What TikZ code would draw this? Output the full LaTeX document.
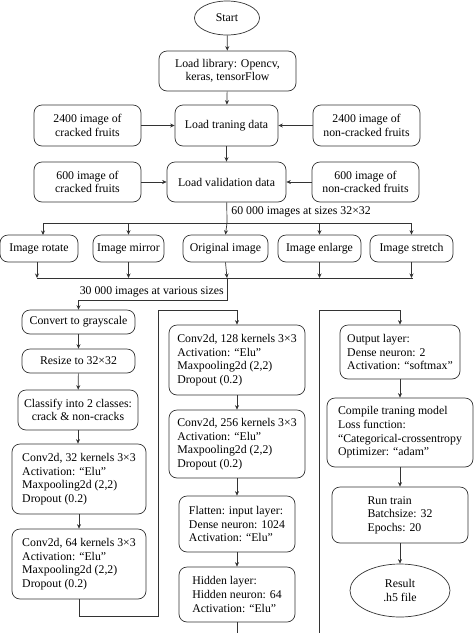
\documentclass[tikz,border=0pt]{standalone}
\usepackage{fontspec}
\setmainfont{Liberation Serif}
\usetikzlibrary{arrows.meta,shapes.geometric}
\begin{document}
\begin{tikzpicture}[x=1pt,y=-1pt,
  line width=0.7pt, draw=black!80,
  >={Stealth[length=4.5pt,width=4pt]},
  every node/.style={font=\fontsize{11.8}{13.6}\selectfont, inner sep=0pt},
  box/.style={draw, rounded corners=8pt, align=center},
  lbox/.style={draw, rounded corners=8pt, align=left},
  oval/.style={draw, ellipse, align=center},
  lab/.style={font=\fontsize{11.8}{13}\selectfont}]
\useasboundingbox (0,0) rectangle (474,633);
\clip (0,0) rectangle (474,633);
% top
\node[oval, minimum width=65, minimum height=34] (start) at (227,18) {Start};
\node[box, minimum width=137, minimum height=40] (lib) at (227.5,71) {Load library: Opencv,\\keras, tensorFlow};
\node[box, minimum width=103, minimum height=41] (tr) at (226.5,125.5) {Load traning data};
\node[box, minimum width=107, minimum height=41] (c1) at (87.5,125.5) {2400 image of\\cracked fruits};
\node[box, minimum width=107, minimum height=41] (n1) at (366.5,125.5) {2400 image of\\non-cracked fruits};
\node[box, minimum width=119, minimum height=40] (val) at (226.5,182) {Load validation data};
\node[box, minimum width=107, minimum height=40] (c2) at (87.5,182) {600 image of\\cracked fruits};
\node[box, minimum width=107, minimum height=40] (n2) at (365.5,182) {600 image of\\non-cracked fruits};
\draw[->] (start) -- (lib);
\draw[->] (lib) -- (tr);
\draw[->] (c1) -- (tr);
\draw[->] (n1) -- (tr);
\draw[->] (tr) -- (val);
\draw[->] (c2) -- (val);
\draw[->] (n2) -- (val);
\node[lab, anchor=west] (l60) at (231,212) {60 000 images at sizes 32×32};
% augmentation
\node[box, minimum width=78, minimum height=27] (rot) at (39,248.5) {Image rotate};
\node[box, minimum width=71, minimum height=27] (mir) at (128.5,248.5) {Image mirror};
\node[box, minimum width=85, minimum height=27] (orig) at (225.5,248.5) {Original image};
\node[box, minimum width=83, minimum height=27] (enl) at (319.5,248.5) {Image enlarge};
\node[box, minimum width=83, minimum height=27] (str) at (411.5,248.5) {Image stretch};
\coordinate (b1) at (227,223);
\draw (val) -- (b1);
\draw (43,223) -- (412,223);
\draw[->] (43,223) -- (43,235);
\draw[->] (mir.north |- b1) -- (mir.north);
\draw[->] (b1) -- (orig.north);
\draw[->] (enl.north |- b1) -- (enl.north);
\draw[->] (str.north |- b1) -- (str.north);
\coordinate (b2) at (227,278);
\draw (37,278) -- (413,278);
\draw[->] (37,262) -- (37,278);
\draw[->] (mir.south) -- (mir.south |- b2);
\draw[->] (orig.south) -- (b2);
\draw[->] (enl.south) -- (enl.south |- b2);
\draw[->] (str.south) -- (str.south |- b2);
\node[lab, anchor=east] (l30) at (224,292) {30 000 images at various sizes};
% left column
\node[box, minimum width=113, minimum height=24] (gray) at (78.5,322) {Convert to grayscale};
\node[box, minimum width=113, minimum height=24] (rs) at (78.5,361) {Resize to 32×32};
\node[box, minimum width=120, minimum height=40] (cls) at (78,410) {Classify into 2 classes:\\crack \& non-cracks};
\node[lbox, minimum width=134, minimum height=70] (k32) at (79,479) {Conv2d, 32 kernels 3×3\\Activation: “Elu”\\Maxpooling2d (2,2)\\Dropout (0.2)};
\node[lbox, minimum width=134, minimum height=70] (k64) at (79,564) {Conv2d, 64 kernels 3×3\\Activation: “Elu”\\Maxpooling2d (2,2)\\Dropout (0.2)};
\draw[->] (b2) -- (227,300) -- (78.5,300) -- (gray.north);
\draw[->] (gray) -- (rs);
\draw[->] (rs) -- (cls);
\draw[->] (cls.south) -- (cls.south |- k32.north);
\draw[->] (k32) -- (k64);
% middle column
\node[lbox, minimum width=136, minimum height=70] (k128) at (237,360) {Conv2d, 128 kernels 3×3\\Activation: “Elu”\\Maxpooling2d (2,2)\\Dropout (0.2)};
\node[lbox, minimum width=136, minimum height=68] (k256) at (237,444) {Conv2d, 256 kernels 3×3\\Activation: “Elu”\\Maxpooling2d (2,2)\\Dropout (0.2)};
\node[lbox, minimum width=116, minimum height=56] (flat) at (237,524) {Flatten: input layer:\\Dense neuron: 1024\\Activation: “Elu”};
\node[lbox, minimum width=116, minimum height=55] (hid) at (237,594.5) {Hidden layer:\\Hidden neuron: 64\\Activation: “Elu”};
\draw[->] (k64.south) -- (79,616) -- (158,616) -- (158,310) -- (237,310) -- (k128.north);
\draw[->] (k128) -- (k256);
\draw[->] (k256) -- (flat);
\draw[->] (flat) -- (hid);
% right column
\node[lbox, minimum width=120, minimum height=54] (out) at (400,352) {Output layer:\\Dense neuron: 2\\Activation: “softmax”};
\node[lbox, minimum width=146, minimum height=69] (comp) at (400,432.5) {Compile traning model\\Loss function:\\“Categorical-crossentropy\\Optimizer: “adam”};
\node[lbox, minimum width=136, minimum height=56] (run) at (400,515) {Run train\\Batchsize: 32\\Epochs: 20};
\node[oval, minimum width=100, minimum height=53] (res) at (400,590.5) {Result\\.h5 file};
\draw[->] (hid.south) -- (237,645) -- (319,645) -- (319,310) -- (400,310) -- (out.north);
\draw[->] (out) -- (comp);
\draw[->] (comp) -- (run);
\draw[->] (run) -- (res);
\end{tikzpicture}
\end{document}
